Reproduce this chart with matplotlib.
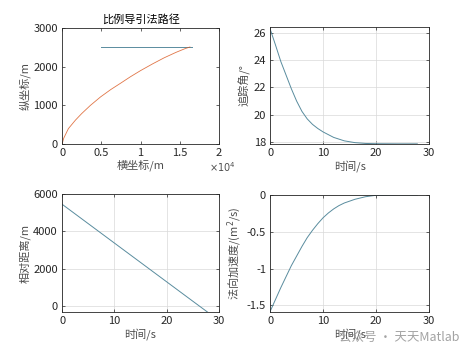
import matplotlib.pyplot as plt
import numpy as np

plt.rcParams['font.family'] = ['Noto Sans CJK SC', 'DejaVu Sans']
plt.rcParams['axes.unicode_minus'] = False

# pursuit path (pursuer) and target path, metres
pursuer_x = [0, 200, 800, 1700, 2500, 3600, 4900, 6200, 7500, 8700, 10000, 11500, 13000, 14500, 15700, 16300]
pursuer_y = [0, 150, 400, 620, 790, 1000, 1220, 1410, 1580, 1740, 1900, 2070, 2230, 2370, 2470, 2510]
target_x = [5000, 16600]
target_y = [2500, 2500]

# chase angle vs time
t_angle = [0, 1, 2, 3, 4, 5, 6, 7, 8, 9, 10, 12, 14, 16, 18, 20, 24, 27.8]
angle = [26.25, 25.1, 23.9, 22.9, 21.9, 21.0, 20.25, 19.7, 19.3, 19.0, 18.75,
         18.35, 18.1, 17.97, 17.91, 17.89, 17.88, 17.88]

# relative distance vs time
t_dist = [0, 5, 10, 15, 20, 25, 27.8]
dist = [5460, 4420, 3380, 2340, 1300, 260, -320]

# normal acceleration vs time
t_acc = [0, 1, 2, 3, 4, 5, 6, 7, 8, 9, 10, 11, 12, 13, 14, 16, 18, 20, 24, 27.8]
acc = [-1.58, -1.42, -1.26, -1.11, -0.96, -0.83, -0.70, -0.58, -0.48, -0.39, -0.31,
       -0.245, -0.19, -0.145, -0.11, -0.06, -0.025, -0.005, 0, 0]

orange = (0.85, 0.325, 0.098)
line_col = (0.35, 0.55, 0.62)
label_col = (0.3, 0.3, 0.3)

fig = plt.figure(figsize=(4.74, 3.55), dpi=100)

def style(ax, grid=True):
    ax.tick_params(direction='in', labelsize=8, length=2.5, width=0.5,
                   colors=(0.15, 0.15, 0.15), top=True, right=True, pad=3)
    for s in ax.spines.values():
        s.set_linewidth(0.6)
        s.set_color((0.15, 0.15, 0.15))
    if grid:
        ax.grid(True, color=(0.85, 0.85, 0.85), linewidth=0.5)
        ax.set_axisbelow(True)

ax1 = fig.add_axes([0.131, 0.594, 0.331, 0.327])
ax1.plot(target_x, target_y, color=line_col, lw=0.7)
ax1.plot(pursuer_x, pursuer_y, color=orange, lw=0.6, alpha=0.8)
ax1.set_xlim(0, 20000)
ax1.set_ylim(0, 3000)
ax1.set_xticks([0, 5000, 10000, 15000, 20000])
ax1.set_xticklabels(['0', '0.5', '1', '1.5', '2'])
ax1.set_yticks([0, 1000, 2000, 3000])
ax1.set_title('比例导引法路径', fontsize=8, pad=4)
ax1.set_xlabel('横坐标/m', fontsize=8, color=label_col, labelpad=1)
ax1.set_ylabel('纵坐标/m', fontsize=8, color=label_col, labelpad=2)
ax1.text(1.02, -0.2, r'$\times10^4$', transform=ax1.transAxes, fontsize=7,
         ha='center', va='center', color=label_col)
style(ax1, grid=False)

ax2 = fig.add_axes([0.570, 0.594, 0.335, 0.330])
ax2.plot(t_angle, angle, color=line_col, lw=0.7)
ax2.set_xlim(0, 30)
ax2.set_ylim(17.86, 26.41)
ax2.set_xticks([0, 10, 20, 30])
ax2.set_yticks([18, 20, 22, 24, 26])
ax2.set_xlabel('时间/s', fontsize=8, color=label_col, labelpad=1)
ax2.set_ylabel('追踪角/°', fontsize=8, color=label_col, labelpad=2)
style(ax2)

ax3 = fig.add_axes([0.131, 0.121, 0.331, 0.332])
ax3.plot(t_dist, dist, color=line_col, lw=0.7)
ax3.set_xlim(0, 30)
ax3.set_ylim(-320, 6000)
ax3.set_xticks([0, 10, 20, 30])
ax3.set_yticks([0, 2000, 4000, 6000])
ax3.set_xlabel('时间/s', fontsize=8, color=label_col, labelpad=1)
ax3.set_ylabel('相对距离/m', fontsize=8, color=label_col, labelpad=2)
style(ax3)

ax4 = fig.add_axes([0.570, 0.121, 0.335, 0.330])
ax4.plot(t_acc, acc, color=line_col, lw=0.7)
ax4.set_xlim(0, 30)
ax4.set_ylim(-1.59, 0)
ax4.set_xticks([0, 10, 20, 30])
ax4.set_yticks([-1.5, -1, -0.5, 0])
ax4.set_yticklabels(['-1.5', '-1', '-0.5', '0'])
ax4.set_xlabel('时间/s', fontsize=8, color=label_col, labelpad=1)
ax4.set_ylabel('法向加速度/(m$^2$/s)', fontsize=8, color=label_col, labelpad=2)
style(ax4)

# watermark, as in the reference
fig.text(0.715, 0.05, '公众号 · 天天Matlab', fontsize=9, color=(0.55, 0.55, 0.55),
         alpha=0.8, ha='left', va='center')

fig.savefig('out.png', dpi=100, facecolor='white')
